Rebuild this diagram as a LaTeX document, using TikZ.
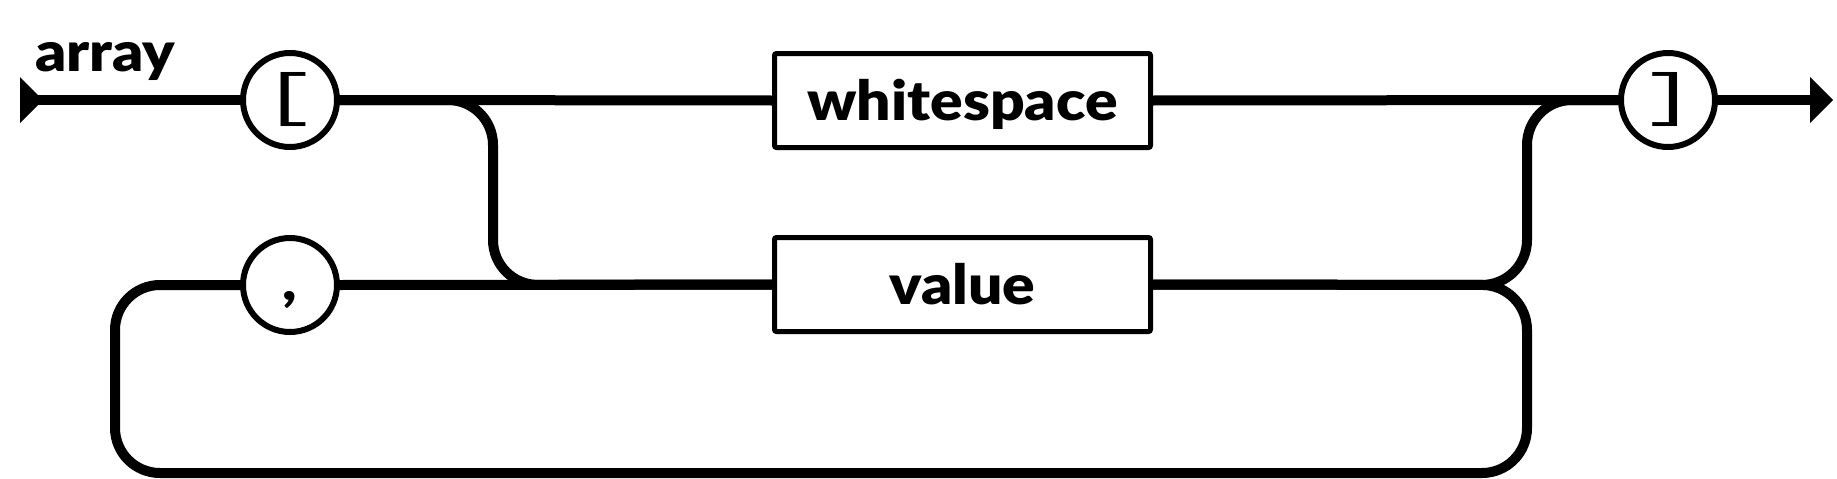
\documentclass[tikz,border=0pt]{standalone}
\usepackage{fontspec}
\setmainfont{Lato}
\newfontfamily\labelfont[FakeStretch=1.1]{Lato Black}
\newfontfamily\brkfont{Liberation Mono}
\begin{document}
\begin{tikzpicture}[x=1pt,y=-1pt,
  rail/.style={line width=10pt, line join=round},
  term/.style={circle, draw, line width=6pt, minimum size=94pt, inner sep=0pt, fill=white},
  nonterm/.style={rectangle, draw, line width=5pt, minimum width=376pt, minimum height=94pt,
    rounded corners=2pt, fill=white, font=\fontsize{55}{60}\selectfont\labelfont,
    text height=39pt, text depth=0pt},
  lbltext/.style={font=\fontsize{55}{60}\selectfont\labelfont, inner sep=0pt},
  brk/.style={font=\fontsize{58}{60}\selectfont\brkfont}
]
\useasboundingbox (0,0) rectangle (1837,479);

\node[lbltext, anchor=base west] (lbl) at (35,71) {array};

\node[term, brk] (lb) at (290,100) {\scalebox{1.6}[1]{[}};
\node[term] (cm) at (290,285) {};
\node[lbltext, anchor=base] (cmtxt) at (290,300) {,};
\node[term, brk] (rb) at (1668,100) {\scalebox{1.6}[1]{]}};
\node[nonterm] (ws) at (962.5,100.5) {whitespace};
\node[nonterm] (val) at (962.5,284.5) {value};

\coordinate (st) at (20,100);
\coordinate (en) at (1833,100);

% start marker
\fill (st) ++(0,-23) -- (43,100) -- (20,123) -- cycle;
\draw[rail] (st) -- (lb.west);

% top row
\draw[rail] (lb.east) -- (ws.west);
\draw[rail] (ws.east) -- (rb.west);

% branch down to value
\draw[rail, rounded corners=45pt] (lb.east) -- (493,100) -- (493,285) -- (val.west);
\draw[rail] (cm.east) -- (val.west);

% value back up to ]
\draw[rail, rounded corners=45pt] (val.east) -- (1527,285) -- (1527,100) -- (rb.west);

% repeat loop
\draw[rail, rounded corners=45pt] (val.east) -- (1527,285) -- (1527,473) -- (115,473) -- (115,285) -- (cm.west);

% end marker
\draw[rail] (rb.east) -- (1812,100);
\fill (1810,77) -- (en) -- (1810,123) -- cycle;
\end{tikzpicture}
\end{document}
